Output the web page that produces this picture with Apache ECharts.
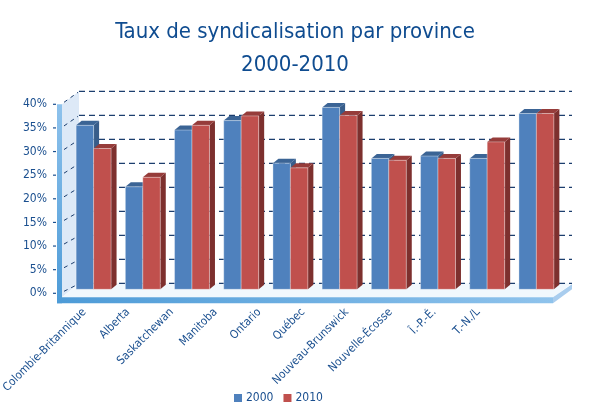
<!DOCTYPE html>
<html>
<head>
<meta charset="utf-8">
<script src="https://cdn.jsdelivr.net/npm/echarts@6/dist/echarts.min.js"></script>
<style>
  html, body { margin: 0; padding: 0; background: #fff; }
  #chart { width: 590px; height: 406px; }
</style>
</head>
<body>
<div id="chart"></div>
<script>
var provinces = ["Colombie-Britannique", "Alberta", "Saskatchewan", "Manitoba", "Ontario",
  "Québec", "Nouveau-Brunswick", "Nouvelle-Écosse", "Î.-P.-É.", "T.-N./L"];
var values2000 = [34.7, 21.7, 33.7, 35.7, 26.7, 38.5, 27.7, 28.2, 27.7, 37.2];
var values2010 = [29.8, 23.7, 34.7, 36.7, 25.7, 36.8, 27.3, 27.7, 31.2, 37.2];
var yTicks = [0, 5, 10, 15, 20, 25, 30, 35, 40];

var FONT = "'DejaVu Sans Condensed', 'Liberation Sans Narrow', sans-serif";
var TEXT = "#1a4f8f";

// 3d bar: front face, top and right side
function bar3d(left, colors) {
  return function (params, api) {
    var top = api.coord([api.value(0), api.value(1)]);
    var base = api.coord([api.value(0), 0]);
    var band = api.size([1, 0])[0];
    var w = band * 0.355;
    var x0 = top[0] + 8 - (left ? w : 0);
    var x1 = x0 + w;
    var yt = top[1] - 4, yb = base[1] - 4;
    var d = 5.5, dh = 4.5;
    return {
      type: "group",
      children: [
        { type: "polygon", shape: { points: [[x1, yt], [x1 + d, yt - dh], [x1 + d, yb - dh], [x1, yb]] },
          style: { fill: colors[2] } },
        { type: "polygon", shape: { points: [[x0, yt], [x1, yt], [x1 + d, yt - dh], [x0 + d, yt - dh]] },
          style: { fill: colors[1] } },
        { type: "rect", shape: { x: x0, y: yt, width: w, height: yb - yt },
          style: { fill: colors[0], stroke: "rgba(255,255,255,0.35)", lineWidth: 1 } }
      ]
    };
  };
}

// walls, floor and back gridlines
function walls(params, api) {
  var cs = params.coordSys;
  var L = cs.x, R = cs.x + cs.width;
  var y0 = api.coord([0, 0])[1];
  var yTop = api.coord([0, 40])[1];
  var back = function (v) { return api.coord([0, v])[1] - 10 - 3 * v / 40; };
  var kids = [
    { type: "polygon", shape: { points: [[L + 1, yTop], [L + 18, back(40)], [L + 18, back(0)], [L + 1, y0 + 4]] },
      style: { fill: "#dde9f7" } },
    { type: "polygon", shape: { points: [[L + 1, y0 + 4], [R, y0 + 4], [R + 19, back(0)], [L + 18, back(0)]] },
      style: { fill: "#f1f8fd" } },
    { type: "polygon", shape: { points: [[R, y0 + 4], [R + 19, back(0) + 1], [R + 19, back(0) + 6], [R, y0 + 10]] },
      style: { fill: "#a9cdee" } },
    { type: "rect", shape: { x: L - 4, y: y0 + 4, width: R - L + 4, height: 6 },
      style: { fill: new echarts.graphic.LinearGradient(0, 0, 1, 0, [
        { offset: 0, color: "#4d9bd7" }, { offset: 1, color: "#8fc3ec" }]) } },
    { type: "rect", shape: { x: L - 4, y: yTop, width: 5, height: y0 + 10 - yTop },
      style: { fill: new echarts.graphic.LinearGradient(0, 0, 0, 1, [
        { offset: 0, color: "#8ec2ec" }, { offset: 1, color: "#4d9bd7" }]) } }
  ];
  yTicks.forEach(function (v) {
    var yf = api.coord([0, v])[1];
    kids.push({ type: "line", shape: { x1: L + 18, y1: back(v), x2: R + 19, y2: back(v) },
      style: { stroke: "#1c3e6e", lineWidth: 1.2, lineDash: [6, 4] } });
    kids.push({ type: "line", shape: { x1: L + 3, y1: yf - 2, x2: L + 17, y2: back(v) + 1 },
      style: { stroke: "#1c3e6e", lineWidth: 1, lineDash: [4, 4] } });
    kids.push({ type: "line", shape: { x1: L - 8, y1: yf, x2: L - 5, y2: yf },
      style: { stroke: TEXT, lineWidth: 1.2 } });
  });
  return { type: "group", children: kids };
}

var chart = echarts.init(document.getElementById("chart"));
chart.setOption({
  animation: false,
  title: {
    text: "Taux de syndicalisation par province\n2000-2010",
    left: "center",
    top: 11,
    textStyle: { fontFamily: FONT, fontSize: 22, fontWeight: "normal", color: "#0f4c90", lineHeight: 33 }
  },
  legend: {
    data: ["2000", "2010"],
    left: 229,
    top: 387,
    icon: "rect",
    itemWidth: 8,
    itemHeight: 8,
    itemGap: 10,
    textStyle: { fontFamily: FONT, fontSize: 12, color: TEXT, padding: [0, 0, 0, -1] }
  },
  grid: [
    { left: 61, right: 37, top: 104.3, bottom: 112.7 },
    { left: 36, right: 90, top: 104.3, bottom: 112.7 }
  ],
  xAxis: [
    { type: "category", data: provinces, gridIndex: 0,
      axisLine: { show: false }, axisTick: { show: false }, axisLabel: { show: false } },
    { type: "category", data: provinces, gridIndex: 1,
      axisLine: { show: false }, axisTick: { show: false },
      axisLabel: { rotate: 45, interval: 0, margin: 17, fontFamily: FONT, fontSize: 11.5, color: TEXT } }
  ],
  yAxis: [
    { type: "value", gridIndex: 0, min: 0, max: 40, interval: 5,
      axisLine: { show: false }, axisTick: { show: false }, splitLine: { show: false },
      axisLabel: { formatter: "{value}%", margin: 14, fontFamily: FONT, fontSize: 12, color: TEXT } },
    { type: "value", gridIndex: 1, min: 0, max: 40, show: false }
  ],
  series: [
    { type: "custom", name: "walls", silent: true, renderItem: walls, data: [[0, 0]], z: 1 },
    { type: "custom", name: "2000", renderItem: bar3d(true, ["#4f81bd", "#3b6495", "#385d8a"]),
      itemStyle: { color: "#4f81bd" }, z: 2,
      data: values2000.map(function (v, i) { return [i, v]; }) },
    { type: "custom", name: "2010", renderItem: bar3d(false, ["#c0504d", "#963c3a", "#7d302e"]),
      itemStyle: { color: "#c0504d" }, z: 3,
      data: values2010.map(function (v, i) { return [i, v]; }) }
  ]
});
</script>
</body>
</html>
